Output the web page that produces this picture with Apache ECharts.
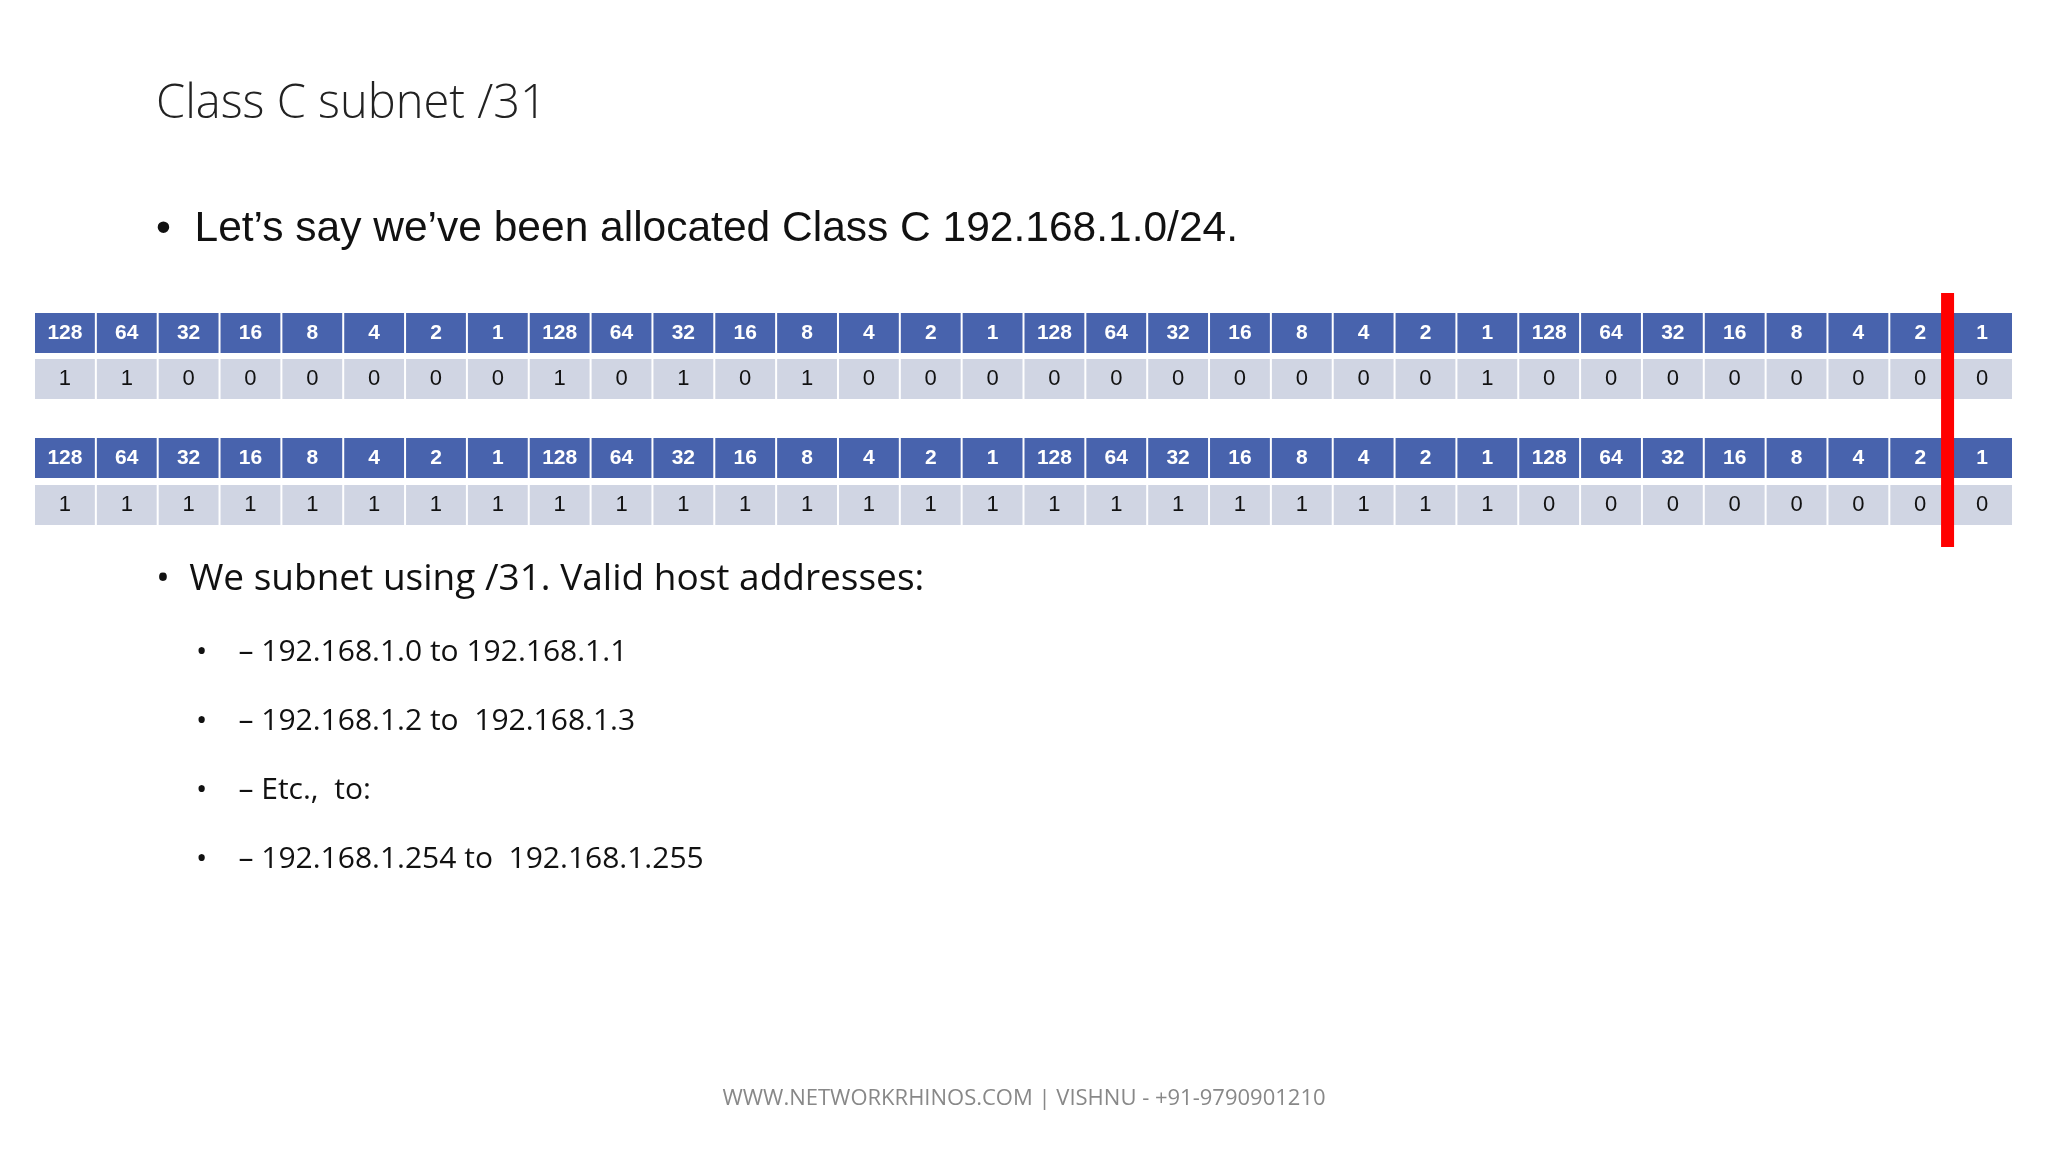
<!DOCTYPE html>
<html>
<head>
<meta charset="UTF-8">
<title>Class C subnet /31</title>
<script src="https://cdn.jsdelivr.net/npm/echarts@6/dist/echarts.min.js"></script>
<style>
html,body{margin:0;padding:0;background:#fff;}
#main{width:2048px;height:1152px;}
</style>
</head>
<body>
<div id="main"></div>
<script>
// bit weights per octet, repeated across 4 octets
var weights = [128, 64, 32, 16, 8, 4, 2, 1];
var networkBits = [1,1,0,0,0,0,0,0, 1,0,1,0,1,0,0,0, 0,0,0,0,0,0,0,1, 0,0,0,0,0,0,0,0];
var maskBits = [1,1,1,1,1,1,1,1, 1,1,1,1,1,1,1,1, 1,1,1,1,1,1,1,1, 0,0,0,0,0,0,0,0];
var prefixLen = [31];

// row bands (top, bottom) in chart units = pixels
var rowBands = [[313, 353], [359, 399], [438, 478], [485, 525]];

var cells = [];
for (var i = 0; i < 32; i++) {
  var w = weights[i % 8];
  cells.push([i, 0, String(w), 1]);
  cells.push([i, 1, String(networkBits[i]), 0]);
  cells.push([i, 2, String(w), 1]);
  cells.push([i, 3, String(maskBits[i]), 0]);
}

var chart = echarts.init(document.getElementById('main'));

function renderCell(params, api) {
  var col = api.value(0), row = api.value(1), head = api.value(3);
  var band = rowBands[row];
  var p0 = api.coord([col, band[0]]);
  var p1 = api.coord([col + 1, band[1]]);
  var x = p0[0] + 1, y = p0[1], w = p1[0] - p0[0] - 2, h = p1[1] - p0[1];
  return {
    type: 'group',
    children: [{
      type: 'rect',
      shape: {x: x, y: y, width: w, height: h},
      style: {fill: head ? '#4863ad' : '#d0d5e3'}
    }, {
      type: 'text',
      style: {
        x: x + w / 2, y: y + h / 2,
        text: api.value(2),
        align: 'center', verticalAlign: 'middle',
        fill: head ? '#ffffff' : '#111111',
        font: (head ? 'bold 21px ' : '22px ') + '"Liberation Sans", Arial, sans-serif'
      }
    }]
  };
}

function renderDivider(params, api) {
  var p0 = api.coord([api.value(0), 293]);
  var p1 = api.coord([api.value(0), 547]);
  return {
    type: 'rect',
    shape: {x: p0[0] - 7, y: p0[1], width: 13, height: p1[1] - p0[1]},
    style: {fill: '#ff0000'}
  };
}

var textFont = '"Liberation Sans", Arial, sans-serif';
var bodyFont = '"Open Sans", "Noto Sans", sans-serif';

var option = {
  backgroundColor: '#ffffff',
  animation: false,
  grid: {left: 34, right: 35, top: 0, bottom: 0},
  xAxis: {type: 'value', min: 0, max: 32, show: false},
  yAxis: {type: 'value', min: 0, max: 1152, inverse: true, show: false},
  series: [{
    type: 'custom',
    renderItem: renderCell,
    data: cells,
    encode: {x: 0, y: 1}
  }, {
    type: 'custom',
    renderItem: renderDivider,
    data: prefixLen.map(function (p) { return [p - 0.05]; }),
    encode: {x: 0}
  }],
  graphic: [
    {type: 'text', left: 156, top: 81, style: {text: 'Class C subnet /31', font: '300 47px ' + bodyFont, fill: '#222'}},
    {type: 'text', left: 156, top: 208, style: {text: '•  Let’s say we’ve been allocated Class C 192.168.1.0/24.', font: '42.5px ' + textFont, fill: '#111'}},
    {type: 'text', left: 156, top: 561, style: {text: '•  We subnet using /31. Valid host addresses:', font: '37px ' + bodyFont, fill: '#111'}},
    {type: 'text', left: 196, top: 637, style: {text: '•    – 192.168.1.0 to 192.168.1.1', font: '30px ' + bodyFont, fill: '#111'}},
    {type: 'text', left: 196, top: 706, style: {text: '•    – 192.168.1.2 to  192.168.1.3', font: '30px ' + bodyFont, fill: '#111'}},
    {type: 'text', left: 196, top: 775, style: {text: '•    – Etc.,  to:', font: '30px ' + bodyFont, fill: '#111'}},
    {type: 'text', left: 196, top: 844, style: {text: '•    – 192.168.1.254 to  192.168.1.255', font: '30px ' + bodyFont, fill: '#111'}},
    {type: 'text', left: 'center', top: 1088, style: {text: 'WWW.NETWORKRHINOS.COM | VISHNU - +91-9790901210', font: '22px ' + bodyFont, fill: '#888'}}
  ]
};
chart.setOption(option);
</script>
</body>
</html>
